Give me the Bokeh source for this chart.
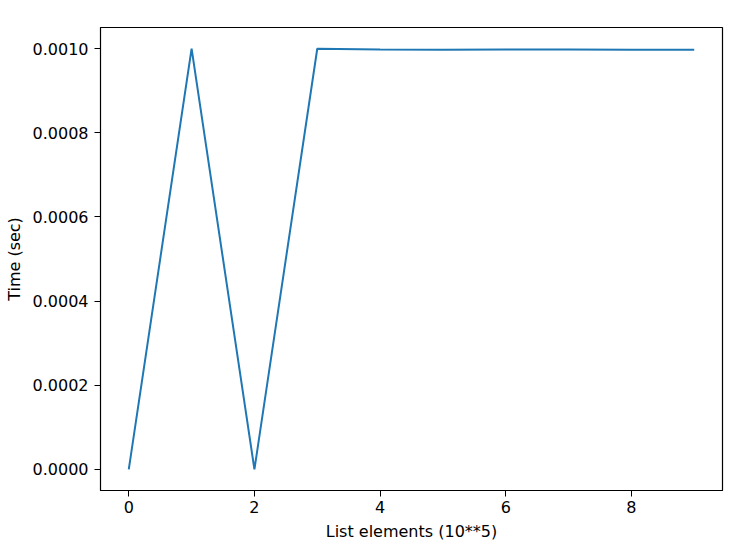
from bokeh.plotting import figure
from bokeh.models import FixedTicker, PrintfTickFormatter, Range1d
from bokeh.embed import file_html
from bokeh.resources import INLINE

x_elements = [0, 1, 2, 3, 4, 5, 6, 7, 8, 9]
times = [0.0, 0.001, 0.0, 0.0009995, 0.000998, 0.000997, 0.000998, 0.000998, 0.000997, 0.000997]
x_ticks = [0, 2, 4, 6, 8]
y_ticks = [0.0, 0.0002, 0.0004, 0.0006, 0.0008, 0.0010]

p = figure(width=734, height=546, output_backend="svg", toolbar_location=None,
           x_range=Range1d(-0.45, 9.45), y_range=Range1d(-0.00005, 0.00105),
           min_border_left=100, min_border_top=27, min_border_right=12, min_border_bottom=56)
p.line(x_elements, times, line_color="#1f77b4", line_width=2)

p.xgrid.visible = False
p.ygrid.visible = False
p.outline_line_color = "black"
p.outline_line_width = 1.2
p.background_fill_color = "white"
p.border_fill_color = "white"

for ax in (p.xaxis[0], p.yaxis[0]):
    ax.axis_line_color = "black"
    ax.major_tick_line_color = "black"
    ax.major_tick_out = 6
    ax.major_tick_in = 0
    ax.minor_tick_line_color = None
    ax.major_label_text_font = "DejaVu Sans"
    ax.major_label_text_font_size = "16px"
    ax.major_label_text_color = "black"
    ax.axis_label_text_font = "DejaVu Sans"
    ax.axis_label_text_font_size = "16px"
    ax.axis_label_text_font_style = "normal"
    ax.axis_label_text_color = "black"

p.xaxis.ticker = FixedTicker(ticks=x_ticks)
p.yaxis.ticker = FixedTicker(ticks=y_ticks)
p.yaxis.formatter = PrintfTickFormatter(format="%.4f")
p.xaxis.axis_label = "List elements (10**5)"
p.yaxis.axis_label = "Time (sec)"
p.xaxis.major_label_standoff = 4
p.yaxis.major_label_standoff = 6
p.xaxis.axis_label_standoff = 6
p.yaxis.axis_label_standoff = 6

open("out.html", "w").write(file_html(p, INLINE))
